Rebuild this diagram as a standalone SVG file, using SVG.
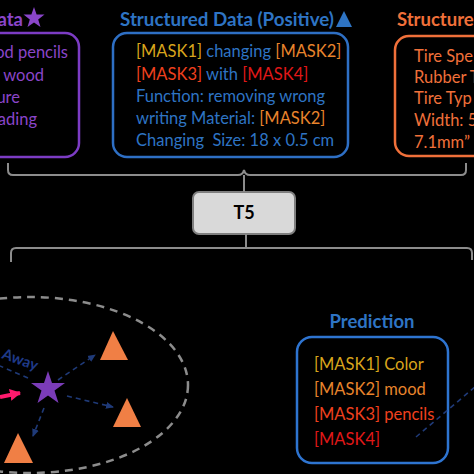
<svg xmlns="http://www.w3.org/2000/svg" width="474" height="474" viewBox="0 0 474 474">
<defs>
<style>
.t{font-family:Lato,"Open Sans","Liberation Sans",sans-serif;font-size:16.5px}
.h{font-family:Lato,"Open Sans","Liberation Sans",sans-serif;font-size:18.5px;font-weight:bold}
.pu{fill:#8a45c9}
.bl{fill:#2e74c4}
.or{fill:#f0703a}
.y{fill:#d9a51c}
.o2{fill:#e8842c}
.r3{fill:#f0401e}
.r4{fill:#e01818}
.box{fill:none;stroke-width:2.5}
.br{fill:none;stroke:#8c8c8c;stroke-width:2}
.nav{fill:none;stroke:#1f3a78;stroke-width:1.6;stroke-dasharray:5 4}
</style>
<marker id="ah" markerWidth="8" markerHeight="8" refX="7" refY="4" orient="auto" markerUnits="userSpaceOnUse">
<path d="M0,0.5 L8,4 L0,7.5 Z" fill="#1f3a78"/>
</marker>
<marker id="ph" markerWidth="12" markerHeight="12" refX="10" refY="6" orient="auto" markerUnits="userSpaceOnUse">
<path d="M0,0 L11,6 L0,12 Z" fill="#ff1a6e"/>
</marker>
</defs>
<rect width="474" height="474" fill="#000"/>

<g id="anchor">
<text class="h pu" x="23" y="26" text-anchor="end">ata</text>
<polygon class="pu" points="34,7 36.6,14.4 44.5,14.6 38.2,19.4 40.5,27 34,22.5 27.5,27 29.8,19.4 23.5,14.6 31.4,14.4"/>
<rect class="box" x="-20" y="33" width="99" height="124" rx="14" stroke="#7c3cc4"/>
<text class="t pu" x="68" y="58" text-anchor="end">od pencils</text>
<text class="t pu" x="44" y="81" text-anchor="end">wood</text>
<text class="t pu" x="20" y="103" text-anchor="end">ure</text>
<text class="t pu" x="37" y="125" text-anchor="end">ading</text>
</g>

<g id="positive">
<text class="h bl" x="120" y="26" textLength="214" lengthAdjust="spacingAndGlyphs">Structured Data (Positive)</text>
<polygon class="bl" points="344,11 352,27 336,27"/>
<rect class="box" x="113" y="33" width="235" height="124" rx="14" stroke="#2e6fc4"/>
<text class="t" x="136" y="57"><tspan class="y">[MASK1]</tspan><tspan class="bl"> changing </tspan><tspan class="o2">[MASK2]</tspan></text>
<text class="t" x="136" y="80"><tspan class="r3">[MASK3]</tspan><tspan class="bl"> with </tspan><tspan class="r4">[MASK4]</tspan></text>
<text class="t bl" x="136" y="102">Function: removing wrong</text>
<text class="t" x="136" y="124"><tspan class="bl">writing Material: </tspan><tspan class="o2">[MASK2]</tspan></text>
<text class="t bl" x="136" y="146" xml:space="preserve">Changing  Size: 18 x 0.5 cm</text>
</g>

<g id="negative">
<text class="h or" x="397" y="26">Structure</text>
<rect class="box" x="395" y="36" width="120" height="120" rx="14" stroke="#f0703a"/>
<text class="t or" x="414" y="62">Tire Spe</text>
<text class="t or" x="414" y="83">Rubber T</text>
<text class="t or" x="414" y="104">Tire Typ</text>
<text class="t or" x="414" y="126">Width: 5</text>
<text class="t or" x="414" y="148">7.1mm”</text>
</g>

<g id="t5">
<rect x="193" y="192" width="102" height="42" rx="6" fill="#d9d9d9" stroke="#7f7f7f" stroke-width="2"/>
<text x="244" y="219" text-anchor="middle" font-family="Lato,'Liberation Sans',sans-serif" font-size="18" font-weight="bold" fill="#000">T5</text>
</g>

<g id="prediction">
<text class="h bl" x="372" y="328" text-anchor="middle">Prediction</text>
<rect class="box" x="297" y="337" width="151" height="126" rx="15" stroke="#2e74d0"/>
<text class="t y" x="314" y="370">[MASK1] Color</text>
<text class="t o2" x="314" y="395">[MASK2] mood</text>
<text class="t r3" x="314" y="420">[MASK3] pencils</text>
<text class="t r4" x="314" y="445">[MASK4]</text>
</g>

<g id="cluster">
<ellipse cx="30" cy="385" rx="158" ry="88" fill="none" stroke="#8c8c8c" stroke-width="2.5" stroke-dasharray="8 6"/>
<polygon points="113,331 128,360 100,360" fill="#f07f45"/>
<polygon points="127,398 141,427 113,427" fill="#f07f45"/>
<polygon points="18,433 33,463 4,463" fill="#f07f45"/>
<polygon points="48,371 52,383 65,383 54.5,390.5 58.5,403 48,395.5 37.5,403 41.5,390.5 31,383 44,383" fill="#7b3cb8"/>
<text x="0" y="0" transform="translate(1,358) rotate(20)" font-family="Lato,'Liberation Sans',sans-serif" font-size="15" font-weight="bold" fill="#1f3a88">Away</text>
</g>

<g id="connectors">
<path class="br" d="M8,163 V170 Q8,175 13,175 H238 Q243,175 244,170 Q245,175 250,175 H461 Q466,175 466,170 V163"/>
<path class="br" d="M244,175 V192"/>
<path class="br" d="M246,234 V248"/>
<path class="br" d="M11,262 V253 Q11,248 16,248 H467 Q472,248 472,253 V260"/>
<line class="nav" x1="58" y1="380" x2="95" y2="355" marker-end="url(#ah)"/>
<line class="nav" x1="67" y1="396" x2="113" y2="407" marker-end="url(#ah)"/>
<line class="nav" x1="44" y1="408" x2="33" y2="436" marker-end="url(#ah)"/>
<line class="nav" x1="28" y1="378" x2="0" y2="366"/>
<line class="nav" x1="416" y1="437" x2="476" y2="386"/>
<line x1="0" y1="397" x2="20" y2="393" stroke="#ff1a6e" stroke-width="4" marker-end="url(#ph)"/>
</g>
</svg>
